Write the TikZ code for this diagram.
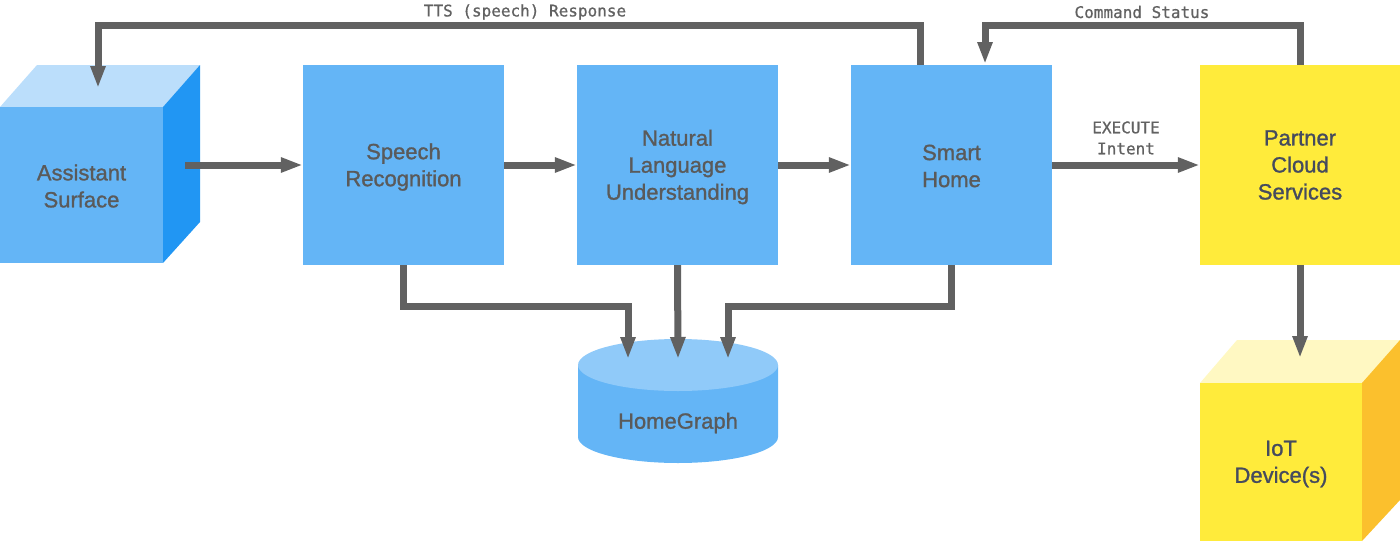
\documentclass[tikz,border=0pt]{standalone}
\usepackage{fontspec}
\setmainfont{Liberation Sans}
\newfontfamily\medfont[FakeBold=1.2]{Liberation Sans}
\newfontfamily\monofnt[FakeBold=0.8]{DejaVu Sans Mono}
\usetikzlibrary{arrows.meta}
\definecolor{bluebox}{HTML}{64B5F6}
\definecolor{blueside}{HTML}{2196F3}
\definecolor{bluetop}{HTML}{BBDEFB}
\definecolor{cyltop}{HTML}{90CAF9}
\definecolor{yelbox}{HTML}{FFEB3B}
\definecolor{yelside}{HTML}{FBC02D}
\definecolor{yeltop}{HTML}{FFF8C2}
\definecolor{linegray}{HTML}{616161}
\definecolor{txtgray}{HTML}{5A5A5A}
\definecolor{txtnavy}{HTML}{454B5E}
\tikzset{
  boxb/.style={fill=bluebox, draw=none, minimum width=201pt, minimum height=200pt, inner sep=0pt},
  boxy/.style={fill=yelbox, draw=none, minimum width=200pt, minimum height=200pt, inner sep=0pt},
  lbl/.style={text=txtgray, align=center, font=\medfont\fontsize{22}{27}\selectfont, yshift=-2pt},
  lbly/.style={text=txtnavy, align=center, font=\medfont\fontsize{22}{27}\selectfont, yshift=-2pt},
  mono/.style={text=linegray, align=center, font=\monofnt\fontsize{16}{21}\selectfont, inner sep=0pt},
  conn/.style={draw=linegray, line width=7pt, -{Triangle[length=22pt,width=14pt]}},
}
\begin{document}
\begin{tikzpicture}[x=1pt,y=-1pt]
\useasboundingbox (0,0) rectangle (1400,541);
% Assistant Surface cube
\fill[bluetop] (0,107) -- (37,65) -- (200,65) -- (163,107) -- cycle;
\fill[blueside] (163,107) -- (200,65) -- (200,222) -- (163,263) -- cycle;
\node[fill=bluebox, minimum width=163pt, minimum height=156pt, inner sep=0pt, anchor=north west] (as) at (0,107) {};
\node[lbl] (astxt) at (81.5,184) {Assistant\\Surface};
% Boxes
\node[boxb] (sr) at (403.5,165) {};
\node[lbl] at (sr) {Speech\\Recognition};
\node[boxb] (nlu) at (677.5,165) {};
\node[lbl] at (nlu) {Natural\\Language\\Understanding};
\node[boxb] (sh) at (951.5,165) {};
\node[lbl] at ([yshift=1pt]sh.center) {Smart\\Home};
\node[boxy] (pc) at (1300,165) {};
\node[lbly] at ([yshift=2pt]pc.center) {Partner\\Cloud\\Services};
% IoT cube
\fill[yeltop] (1200,383) -- (1237,340) -- (1400,340) -- (1400,383) -- cycle;
\fill[yelside] (1362,383) -- (1400,340) -- (1400,500) -- (1362,541) -- cycle;
\node[fill=yelbox, minimum width=162pt, minimum height=158pt, inner sep=0pt, anchor=north west] (iot) at (1200,383) {};
\node[lbly] at (1281,462) {IoT\\Device(s)};
% HomeGraph cylinder
\fill[bluebox] (578,365) -- (578,437) arc[start angle=180, end angle=360, x radius=100, y radius=-26] -- (778,365) -- cycle;
\fill[cyltop] (678,365) ellipse[x radius=100, y radius=26];
\node[lbl] (hg) at (678,421) {HomeGraph};
\coordinate (hgl) at (628,359);
\coordinate (hgm) at (678,359);
\coordinate (hgr) at (728,359);
% connectors
\draw[conn] ([xshift=22pt]as.east |- sr.west) -- (sr.west);
\draw[conn] (sr.east) -- (nlu.west);
\draw[conn] (nlu.east) -- (sh.west);
\draw[conn] (sh.east) -- node[mono, above=7pt] {EXECUTE\\Intent} (pc.west);
\coordinate (ttsy) at (0,25);
\coordinate (asin) at (98,88);
\draw[conn] ([xshift=-31.5pt]sh.north) -- ([xshift=-31.5pt]sh.north |- ttsy) -| (asin);
\node[mono] at (525,12) {TTS (speech) Response};
\coordinate (shin) at (985,64);
\draw[conn] (pc.north) -- (pc.north |- ttsy) -| (shin);
\node[mono] at (1142,12) {Command Status};
\draw[conn] (pc.south) -- (1300,358);
\coordinate (hy) at (0,306);
\draw[conn] (sr.south) -- (sr.south |- hy) -| (hgl);
\draw[conn] (nlu.south) -- (hgm);
\draw[conn] (sh.south) -- (sh.south |- hy) -| (hgr);
\end{tikzpicture}
\end{document}
